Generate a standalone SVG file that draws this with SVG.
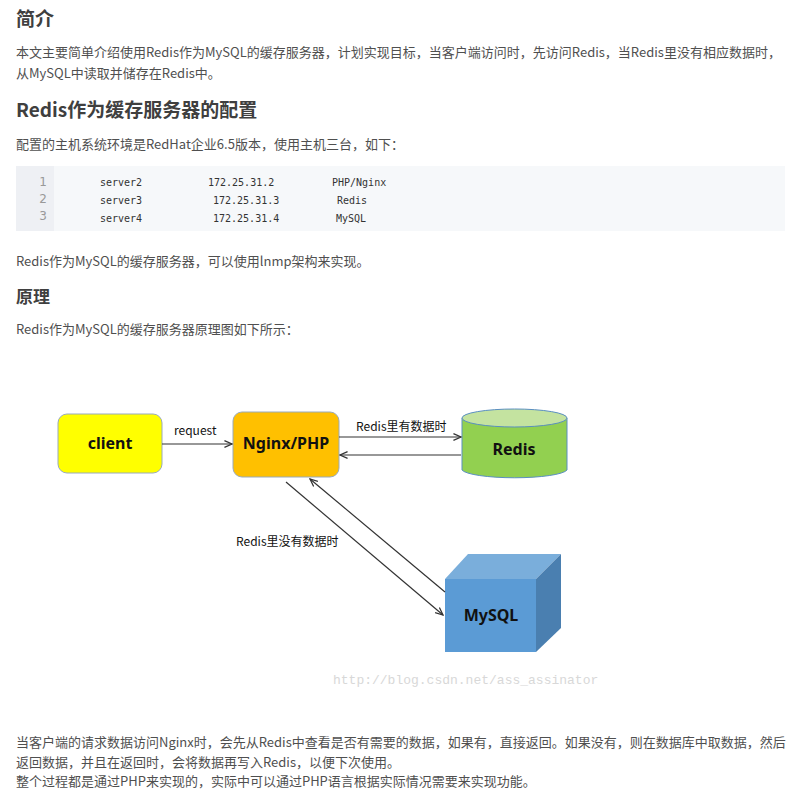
<svg xmlns="http://www.w3.org/2000/svg" width="793" height="797" viewBox="0 0 793 797">
<style>
.t{font-family:"Noto Sans CJK SC","Noto Sans",sans-serif;font-size:13px;fill:#4f4f4f}
.h{font-family:"Noto Sans CJK SC","Noto Sans",sans-serif;font-weight:bold;fill:#3f3f3f}
.c{font-family:"DejaVu Sans Mono",monospace;font-size:10px;fill:#333}
.n{font-family:"DejaVu Sans","Noto Sans",sans-serif;font-size:12px;fill:#999;text-anchor:end}
.lb{font-family:"Noto Sans CJK SC","DejaVu Sans",sans-serif;font-size:12px;fill:#111}
.nd{font-family:"Noto Sans","DejaVu Sans",sans-serif;font-size:16px;font-weight:bold;fill:#111;text-anchor:middle}
.ln{stroke:#333;stroke-width:1.2;fill:none;marker-end:url(#a)}
</style>
<defs><marker id="a" viewBox="0 0 10 10" refX="9" refY="5" markerWidth="7" markerHeight="7" orient="auto"><path d="M0,1 L9,5 L0,9" fill="none" stroke="#333" stroke-width="1.5"/></marker></defs>
<rect width="793" height="797" fill="#fff"/>
<text class="h" x="16" y="26" font-size="19">简介</text>
<text class="t" x="16" y="57">本文主要简单介绍使用Redis作为MySQL的缓存服务器，计划实现目标，当客户端访问时，先访问Redis，当Redis里没有相应数据时，</text>
<text class="t" x="16" y="78">从MySQL中读取并储存在Redis中。</text>
<text class="h" x="16" y="117" font-size="19">Redis作为缓存服务器的配置</text>
<text class="t" x="16" y="149">配置的主机系统环境是RedHat企业6.5版本，使用主机三台，如下：</text>
<rect x="16" y="166" width="769" height="65" fill="#f6f8fa"/>
<rect x="16" y="166" width="38" height="65" fill="#eef0f4"/>
<text class="n" x="47" y="186">1</text><text class="n" x="47" y="203">2</text><text class="n" x="47" y="220">3</text>
<text class="c" x="100" y="186">server2</text><text class="c" x="208" y="186" fill="#1a6a8a">172.25.31.2</text><text class="c" x="332" y="186">PHP/Nginx</text>
<text class="c" x="100" y="204">server3</text><text class="c" x="213" y="204" fill="#1a6a8a">172.25.31.3</text><text class="c" x="337" y="204">Redis</text>
<text class="c" x="100" y="222">server4</text><text class="c" x="213" y="222" fill="#1a6a8a">172.25.31.4</text><text class="c" x="336" y="222">MySQL</text>
<text class="t" x="16" y="266">Redis作为MySQL的缓存服务器，可以使用lnmp架构来实现。</text>
<text class="h" x="16" y="303" font-size="17">原理</text>
<text class="t" x="16" y="334">Redis作为MySQL的缓存服务器原理图如下所示：</text>
<g id="client"><rect x="58" y="414" width="104" height="59" rx="9" fill="#ffff00" stroke="#9ab" stroke-width="1"/><text class="nd" x="110" y="449">client</text></g>
<g id="nginx"><rect x="233" y="412" width="106" height="65" rx="9" fill="#ffc000" stroke="#9ab" stroke-width="1"/><text class="nd" x="286" y="449">Nginx/PHP</text></g>
<g id="redis"><path d="M462,418 V470 A53,9 0 0 0 567,470 V418" fill="#92d050" stroke="#5a8fc0" stroke-width="1"/><ellipse cx="514.5" cy="418" rx="52.5" ry="9" fill="#c4e3a0" stroke="#5a8fc0" stroke-width="1"/><text class="nd" x="514" y="455">Redis</text></g>
<g id="mysql"><polygon points="445,579 468,554 561,554 536,579" fill="#7aaedb"/><polygon points="536,579 561,554 561,628 536,652" fill="#4a7fb0"/><rect x="445" y="579" width="91" height="73" fill="#5b9bd5"/><text class="nd" x="491" y="621">MySQL</text></g>
<g id="connectors">
<line class="ln" x1="162" y1="444" x2="232" y2="444"/>
<line class="ln" x1="339" y1="437" x2="461" y2="437"/>
<line class="ln" x1="461" y1="455" x2="340" y2="455"/>
<line class="ln" x1="286" y1="482" x2="443" y2="615"/>
<line class="ln" x1="445" y1="592" x2="310" y2="479"/>
</g>
<text class="lb" x="174" y="435">request</text>
<text class="lb" x="356" y="431">Redis里有数据时</text>
<text class="lb" x="236" y="546">Redis里没有数据时</text>
<text x="333" y="684" font-family="Liberation Mono,monospace" font-size="13" fill="#d8d8d8">http://blog.csdn.net/ass_assinator</text>
<text class="t" x="16" y="747">当客户端的请求数据访问Nginx时，会先从Redis中查看是否有需要的数据，如果有，直接返回。如果没有，则在数据库中取数据，然后</text>
<text class="t" x="16" y="767">返回数据，并且在返回时，会将数据再写入Redis，以便下次使用。</text>
<text class="t" x="16" y="786">整个过程都是通过PHP来实现的，实际中可以通过PHP语言根据实际情况需要来实现功能。</text>
</svg>
